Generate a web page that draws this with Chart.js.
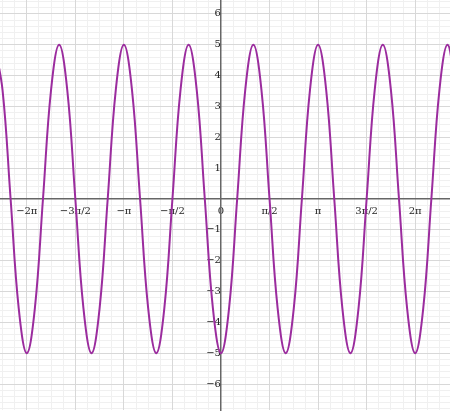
<!DOCTYPE html>
<html><head><meta charset="utf-8">
<script src="https://cdn.jsdelivr.net/npm/chart.js@4"></script>
<style>body{margin:0;background:#fff;overflow:hidden}#w{width:450px;height:434px;margin-top:-12px}</style>
</head><body><div id="w"><canvas id="c"></canvas></div>
<script>
// y = -5cos(3x) every pi/12, from x = -28pi/12 to 29pi/12
const startStep = -28;
const yValues = [
  5, 3.54, 0, -3.54, -5, -3.54, 0, 3.54,
  5, 3.54, 0, -3.54, -5, -3.54, 0, 3.54,
  5, 3.54, 0, -3.54, -5, -3.54, 0, 3.54,
  5, 3.54, 0, -3.54, -5, -3.54, 0, 3.54,
  5, 3.54, 0, -3.54, -5, -3.54, 0, 3.54,
  5, 3.54, 0, -3.54, -5, -3.54, 0, 3.54,
  5, 3.54, 0, -3.54, -5, -3.54, 0, 3.54,
  5, 3.54
];
const xTickLabels = ['−2π', '−3π/2', '−π', '−π/2', '0', 'π/2', 'π', '3π/2', '2π'];
const yTickValues = [-6, -5, -4, -3, -2, -1, 0, 1, 2, 3, 4, 5, 6];

const PI = Math.PI;
const pts = yValues.map((v, i) => ({ x: (startStep + i) * PI / 12, y: v }));
const xMin = -7.15, xMax = 7.41, yMin = -6.84, yMax = 6.45;

new Chart(document.getElementById('c'), {
  type: 'line',
  data: { datasets: [{ data: pts, borderColor: '#9b2c9e', borderWidth: 2, pointRadius: 0, tension: 0.4, fill: false }] },
  options: {
    responsive: true, maintainAspectRatio: false, animation: false,
    layout: { padding: 0 },
    plugins: { legend: { display: false }, tooltip: { enabled: false } },
    scales: {
      xm: { type: 'linear', min: xMin, max: xMax, position: 'bottom', display: true,
        afterBuildTicks: s => { s.ticks = []; for (let k = -24; k <= 24; k++) s.ticks.push({ value: k * PI / 8 }); },
        grid: { color: '#f0f0f0', drawTicks: false }, border: { display: false }, ticks: { display: false } },
      ym: { type: 'linear', min: yMin, max: yMax, position: 'left', display: true,
        afterBuildTicks: s => { s.ticks = []; for (let k = -35; k <= 33; k++) s.ticks.push({ value: k / 5 }); },
        grid: { color: '#f0f0f0', drawTicks: false }, border: { display: false }, ticks: { display: false } },
      x: { type: 'linear', min: xMin, max: xMax, position: { y: 0 },
        afterBuildTicks: s => { s.ticks = []; for (let k = -4; k <= 4; k++) s.ticks.push({ value: k * PI / 2 }); },
        grid: { color: c => c.tick && Math.abs(c.tick.value) < 1e-9 ? 'rgba(0,0,0,0)' : '#d8d8d8', drawTicks: false },
        border: { color: '#666', width: 1.5 },
        ticks: { padding: 6, font: { family: 'DejaVu Serif', size: 10 }, color: '#222',
          callback: (v, i) => xTickLabels[i] } },
      y: { type: 'linear', min: yMin, max: yMax, position: { x: 0 },
        afterBuildTicks: s => { s.ticks = yTickValues.map(v => ({ value: v })); },
        grid: { color: c => c.tick && c.tick.value === 0 ? 'rgba(0,0,0,0)' : '#d8d8d8', drawTicks: false },
        border: { color: '#666', width: 1.5 },
        ticks: { padding: 6, font: { family: 'DejaVu Serif', size: 10 }, color: '#222',
          callback: v => v === 0 ? '' : (v < 0 ? '−' + (-v) : '' + v) } }
    }
  }
});
</script></body></html>
